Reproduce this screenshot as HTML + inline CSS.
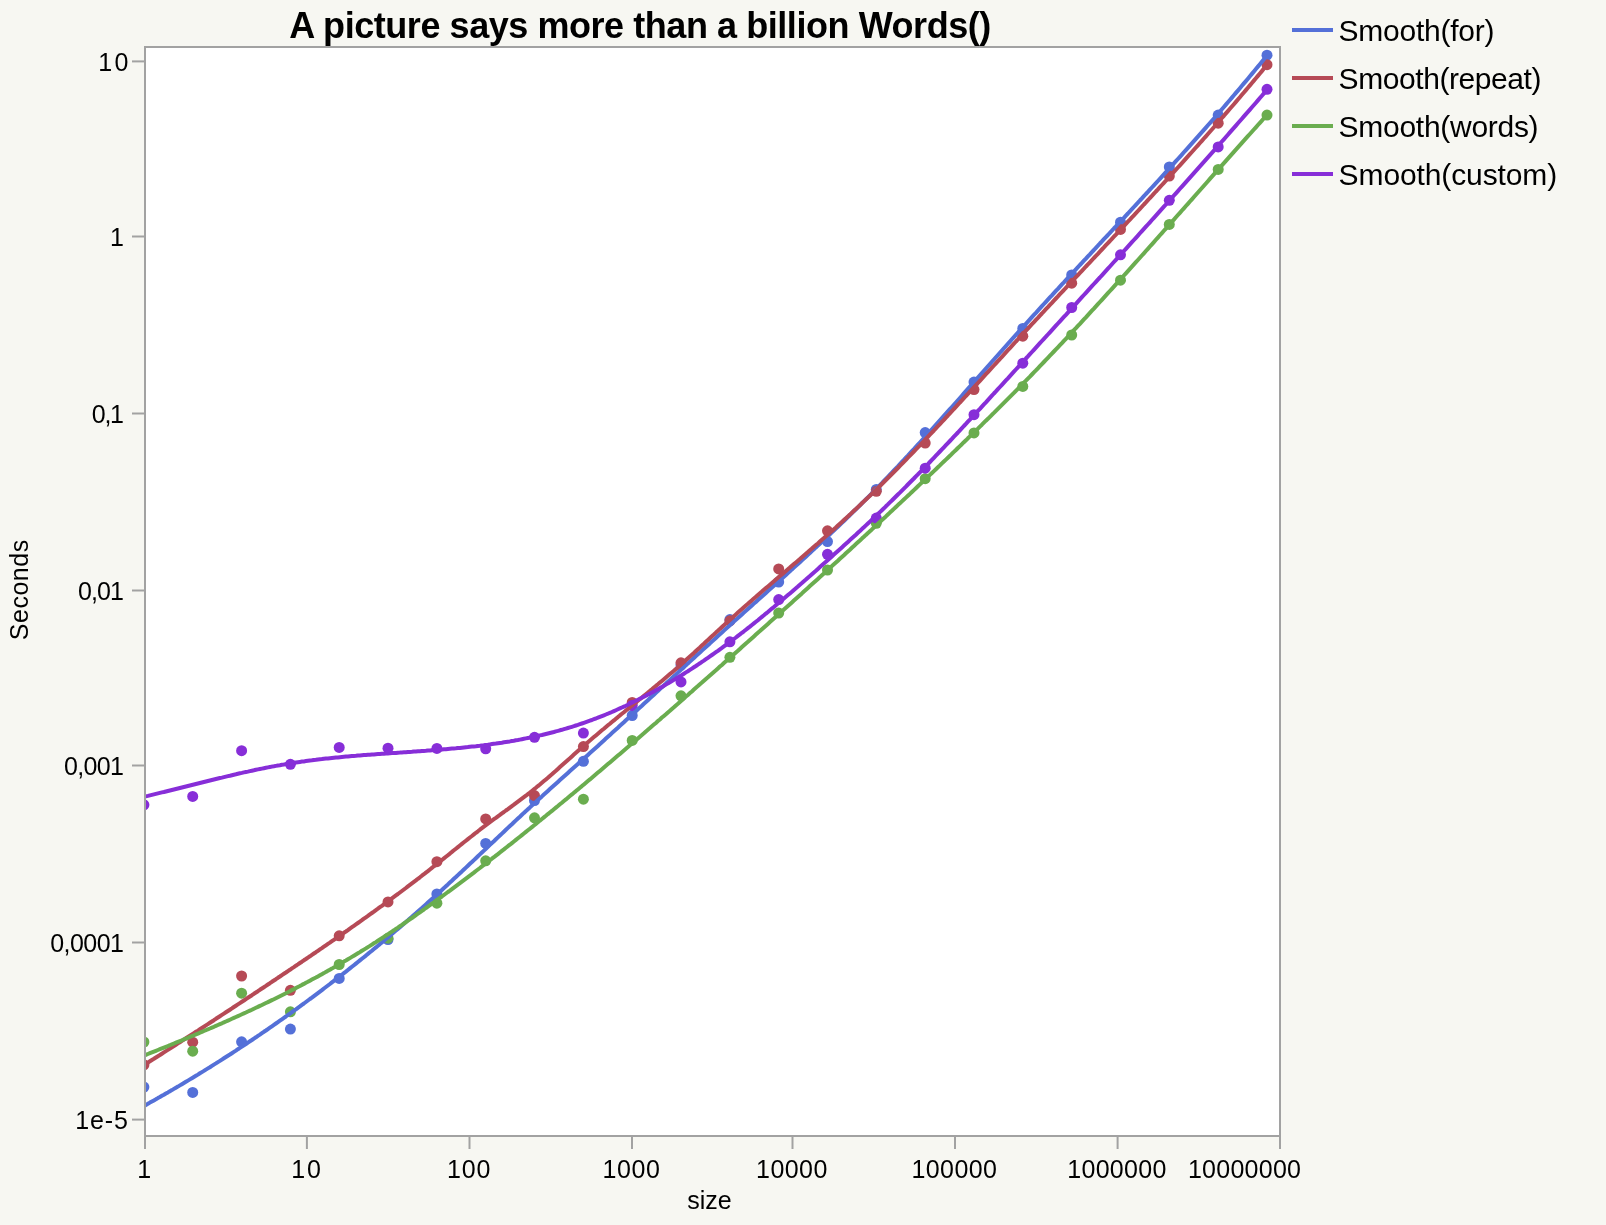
<!DOCTYPE html>
<html><head><meta charset="utf-8"><title>A picture says more than a billion Words()</title>
<style>
html,body{margin:0;padding:0;background:#f7f7f2;}
body{width:1606px;height:1225px;position:relative;overflow:hidden;font-family:"Liberation Sans",sans-serif;}
.t{font-family:"Liberation Sans",sans-serif;font-size:25px;fill:#000;}
.lg{font-family:"Liberation Sans",sans-serif;font-size:30px;fill:#000;}
.title{font-family:"Liberation Sans",sans-serif;font-size:36px;font-weight:bold;fill:#000;}
</style></head><body>
<svg width="1606" height="1225" viewBox="0 0 1606 1225" style="position:absolute;left:0;top:0;will-change:transform">
<defs><clipPath id="pc"><rect x="146" y="48" width="1133" height="1087"/></clipPath></defs>
<rect x="145" y="47" width="1135" height="1089" fill="#fff"/>
<g clip-path="url(#pc)">
<circle cx="143.9" cy="1087.1" r="5.5" fill="#5470d8"/>
<circle cx="192.7" cy="1092.4" r="5.5" fill="#5470d8"/>
<circle cx="241.6" cy="1041.8" r="5.5" fill="#5470d8"/>
<circle cx="290.4" cy="1029.1" r="5.5" fill="#5470d8"/>
<circle cx="339.2" cy="978.4" r="5.5" fill="#5470d8"/>
<circle cx="388.0" cy="939.6" r="5.5" fill="#5470d8"/>
<circle cx="436.9" cy="893.9" r="5.5" fill="#5470d8"/>
<circle cx="485.7" cy="843.4" r="5.5" fill="#5470d8"/>
<circle cx="534.5" cy="800.5" r="5.5" fill="#5470d8"/>
<circle cx="583.4" cy="761.3" r="5.5" fill="#5470d8"/>
<circle cx="632.2" cy="715.5" r="5.5" fill="#5470d8"/>
<circle cx="681.0" cy="665.0" r="5.5" fill="#5470d8"/>
<circle cx="729.9" cy="619.6" r="5.5" fill="#5470d8"/>
<circle cx="778.7" cy="582.0" r="5.5" fill="#5470d8"/>
<circle cx="827.5" cy="541.6" r="5.5" fill="#5470d8"/>
<circle cx="876.3" cy="489.5" r="5.5" fill="#5470d8"/>
<circle cx="925.2" cy="432.6" r="5.5" fill="#5470d8"/>
<circle cx="974.0" cy="382.1" r="5.5" fill="#5470d8"/>
<circle cx="1022.8" cy="328.4" r="5.5" fill="#5470d8"/>
<circle cx="1071.7" cy="274.9" r="5.5" fill="#5470d8"/>
<circle cx="1120.5" cy="222.2" r="5.5" fill="#5470d8"/>
<circle cx="1169.3" cy="167.0" r="5.5" fill="#5470d8"/>
<circle cx="1218.2" cy="115.1" r="5.5" fill="#5470d8"/>
<circle cx="1267.0" cy="55.2" r="5.5" fill="#5470d8"/>
<circle cx="143.9" cy="1064.8" r="5.5" fill="#b64a56"/>
<circle cx="192.7" cy="1042.2" r="5.5" fill="#b64a56"/>
<circle cx="241.6" cy="976.0" r="5.5" fill="#b64a56"/>
<circle cx="290.4" cy="990.3" r="5.5" fill="#b64a56"/>
<circle cx="339.2" cy="935.8" r="5.5" fill="#b64a56"/>
<circle cx="388.0" cy="901.9" r="5.5" fill="#b64a56"/>
<circle cx="436.9" cy="861.7" r="5.5" fill="#b64a56"/>
<circle cx="485.7" cy="818.9" r="5.5" fill="#b64a56"/>
<circle cx="534.5" cy="795.6" r="5.5" fill="#b64a56"/>
<circle cx="583.4" cy="746.6" r="5.5" fill="#b64a56"/>
<circle cx="632.2" cy="702.5" r="5.5" fill="#b64a56"/>
<circle cx="681.0" cy="662.8" r="5.5" fill="#b64a56"/>
<circle cx="729.9" cy="620.8" r="5.5" fill="#b64a56"/>
<circle cx="778.7" cy="568.9" r="5.5" fill="#b64a56"/>
<circle cx="827.5" cy="530.8" r="5.5" fill="#b64a56"/>
<circle cx="876.3" cy="491.3" r="5.5" fill="#b64a56"/>
<circle cx="925.2" cy="443.1" r="5.5" fill="#b64a56"/>
<circle cx="974.0" cy="389.6" r="5.5" fill="#b64a56"/>
<circle cx="1022.8" cy="336.2" r="5.5" fill="#b64a56"/>
<circle cx="1071.7" cy="283.2" r="5.5" fill="#b64a56"/>
<circle cx="1120.5" cy="229.4" r="5.5" fill="#b64a56"/>
<circle cx="1169.3" cy="176.0" r="5.5" fill="#b64a56"/>
<circle cx="1218.2" cy="123.2" r="5.5" fill="#b64a56"/>
<circle cx="1267.0" cy="64.7" r="5.5" fill="#b64a56"/>
<circle cx="143.9" cy="1042.0" r="5.5" fill="#6aad4f"/>
<circle cx="192.7" cy="1051.2" r="5.5" fill="#6aad4f"/>
<circle cx="241.6" cy="993.2" r="5.5" fill="#6aad4f"/>
<circle cx="290.4" cy="1011.8" r="5.5" fill="#6aad4f"/>
<circle cx="339.2" cy="964.5" r="5.5" fill="#6aad4f"/>
<circle cx="388.0" cy="938.2" r="5.5" fill="#6aad4f"/>
<circle cx="436.9" cy="903.2" r="5.5" fill="#6aad4f"/>
<circle cx="485.7" cy="860.8" r="5.5" fill="#6aad4f"/>
<circle cx="534.5" cy="817.8" r="5.5" fill="#6aad4f"/>
<circle cx="583.4" cy="799.2" r="5.5" fill="#6aad4f"/>
<circle cx="632.2" cy="740.4" r="5.5" fill="#6aad4f"/>
<circle cx="681.0" cy="695.8" r="5.5" fill="#6aad4f"/>
<circle cx="729.9" cy="657.3" r="5.5" fill="#6aad4f"/>
<circle cx="778.7" cy="613.0" r="5.5" fill="#6aad4f"/>
<circle cx="827.5" cy="570.1" r="5.5" fill="#6aad4f"/>
<circle cx="876.3" cy="523.3" r="5.5" fill="#6aad4f"/>
<circle cx="925.2" cy="478.7" r="5.5" fill="#6aad4f"/>
<circle cx="974.0" cy="432.9" r="5.5" fill="#6aad4f"/>
<circle cx="1022.8" cy="386.4" r="5.5" fill="#6aad4f"/>
<circle cx="1071.7" cy="335.0" r="5.5" fill="#6aad4f"/>
<circle cx="1120.5" cy="280.2" r="5.5" fill="#6aad4f"/>
<circle cx="1169.3" cy="224.4" r="5.5" fill="#6aad4f"/>
<circle cx="1218.2" cy="169.4" r="5.5" fill="#6aad4f"/>
<circle cx="1267.0" cy="115.1" r="5.5" fill="#6aad4f"/>
<circle cx="143.9" cy="804.8" r="5.5" fill="#872ed8"/>
<circle cx="192.7" cy="796.4" r="5.5" fill="#872ed8"/>
<circle cx="241.6" cy="750.7" r="5.5" fill="#872ed8"/>
<circle cx="290.4" cy="764.3" r="5.5" fill="#872ed8"/>
<circle cx="339.2" cy="747.4" r="5.5" fill="#872ed8"/>
<circle cx="388.0" cy="748.2" r="5.5" fill="#872ed8"/>
<circle cx="436.9" cy="748.4" r="5.5" fill="#872ed8"/>
<circle cx="485.7" cy="748.8" r="5.5" fill="#872ed8"/>
<circle cx="534.5" cy="737.3" r="5.5" fill="#872ed8"/>
<circle cx="583.4" cy="733.1" r="5.5" fill="#872ed8"/>
<circle cx="632.2" cy="705.5" r="5.5" fill="#872ed8"/>
<circle cx="681.0" cy="681.9" r="5.5" fill="#872ed8"/>
<circle cx="729.9" cy="641.8" r="5.5" fill="#872ed8"/>
<circle cx="778.7" cy="599.6" r="5.5" fill="#872ed8"/>
<circle cx="827.5" cy="554.3" r="5.5" fill="#872ed8"/>
<circle cx="876.3" cy="518.1" r="5.5" fill="#872ed8"/>
<circle cx="925.2" cy="468.2" r="5.5" fill="#872ed8"/>
<circle cx="974.0" cy="414.7" r="5.5" fill="#872ed8"/>
<circle cx="1022.8" cy="363.2" r="5.5" fill="#872ed8"/>
<circle cx="1071.7" cy="307.5" r="5.5" fill="#872ed8"/>
<circle cx="1120.5" cy="254.8" r="5.5" fill="#872ed8"/>
<circle cx="1169.3" cy="200.3" r="5.5" fill="#872ed8"/>
<circle cx="1218.2" cy="146.9" r="5.5" fill="#872ed8"/>
<circle cx="1267.0" cy="89.3" r="5.5" fill="#872ed8"/>
<path d="M143.9,1106.0 L145.9,1104.9 L147.9,1103.8 L149.9,1102.6 L151.9,1101.5 L153.9,1100.4 L155.9,1099.3 L157.9,1098.1 L159.9,1097.0 L161.9,1095.8 L163.9,1094.7 L165.9,1093.5 L167.9,1092.4 L169.9,1091.2 L171.9,1090.1 L173.9,1088.9 L175.9,1087.7 L177.9,1086.6 L179.9,1085.4 L181.9,1084.2 L183.9,1083.0 L185.9,1081.8 L187.9,1080.6 L189.9,1079.4 L191.9,1078.2 L193.9,1077.0 L195.9,1075.8 L197.9,1074.6 L199.9,1073.3 L201.9,1072.1 L203.9,1070.9 L205.9,1069.6 L207.9,1068.4 L209.9,1067.2 L211.9,1065.9 L213.9,1064.6 L215.9,1063.4 L217.9,1062.1 L219.9,1060.9 L221.9,1059.6 L223.9,1058.3 L225.9,1057.0 L227.9,1055.7 L229.9,1054.5 L231.9,1053.2 L233.9,1051.9 L235.9,1050.6 L237.9,1049.2 L239.9,1047.9 L241.9,1046.6 L243.9,1045.3 L245.9,1044.0 L247.9,1042.6 L249.9,1041.3 L251.9,1040.0 L253.9,1038.6 L255.9,1037.3 L257.9,1035.9 L259.9,1034.6 L261.9,1033.2 L263.9,1031.8 L265.9,1030.5 L267.9,1029.1 L269.9,1027.7 L271.9,1026.3 L273.9,1024.9 L275.9,1023.5 L277.9,1022.1 L279.9,1020.7 L281.9,1019.3 L283.9,1017.9 L285.9,1016.5 L287.9,1015.0 L289.9,1013.6 L291.9,1012.2 L293.9,1010.7 L295.9,1009.3 L297.9,1007.8 L299.9,1006.4 L301.9,1004.9 L303.9,1003.5 L305.9,1002.0 L307.9,1000.5 L309.9,999.0 L311.9,997.6 L313.9,996.1 L315.9,994.6 L317.9,993.1 L319.9,991.6 L321.9,990.1 L323.9,988.5 L325.9,987.0 L327.9,985.5 L329.9,984.0 L331.9,982.4 L333.9,980.9 L335.9,979.4 L337.9,977.8 L339.9,976.2 L341.9,974.7 L343.9,973.1 L345.9,971.6 L347.9,970.0 L349.9,968.4 L351.9,966.8 L353.9,965.2 L355.9,963.6 L357.9,962.0 L359.9,960.4 L361.9,958.8 L363.9,957.2 L365.9,955.6 L367.9,953.9 L369.9,952.3 L371.9,950.7 L373.9,949.0 L375.9,947.4 L377.9,945.7 L379.9,944.1 L381.9,942.4 L383.9,940.7 L385.9,939.0 L387.9,937.4 L389.9,935.7 L391.9,934.0 L393.9,932.3 L395.9,930.6 L397.9,928.9 L399.9,927.2 L401.9,925.4 L403.9,923.7 L405.9,922.0 L407.9,920.3 L409.9,918.5 L411.9,916.8 L413.9,915.0 L415.9,913.3 L417.9,911.5 L419.9,909.7 L421.9,908.0 L423.9,906.2 L425.9,904.4 L427.9,902.6 L429.9,900.8 L431.9,899.0 L433.9,897.2 L435.9,895.4 L437.9,893.6 L439.9,891.7 L441.9,889.9 L443.9,888.1 L445.9,886.2 L447.9,884.4 L449.9,882.5 L451.9,880.7 L453.9,878.8 L455.9,877.0 L457.9,875.1 L459.9,873.2 L461.9,871.4 L463.9,869.5 L465.9,867.6 L467.9,865.7 L469.9,863.8 L471.9,862.0 L473.9,860.1 L475.9,858.2 L477.9,856.3 L479.9,854.4 L481.9,852.5 L483.9,850.6 L485.9,848.7 L487.9,846.8 L489.9,844.9 L491.9,843.0 L493.9,841.2 L495.9,839.3 L497.9,837.4 L499.9,835.5 L501.9,833.6 L503.9,831.7 L505.9,829.8 L507.9,827.9 L509.9,826.0 L511.9,824.2 L513.9,822.3 L515.9,820.4 L517.9,818.5 L519.9,816.7 L521.9,814.8 L523.9,812.9 L525.9,811.1 L527.9,809.2 L529.9,807.4 L531.9,805.5 L533.9,803.7 L535.9,801.9 L537.9,800.0 L539.9,798.2 L541.9,796.4 L543.9,794.5 L545.9,792.7 L547.9,790.9 L549.9,789.1 L551.9,787.3 L553.9,785.5 L555.9,783.7 L557.9,781.9 L559.9,780.1 L561.9,778.3 L563.9,776.5 L565.9,774.7 L567.9,772.9 L569.9,771.1 L571.9,769.3 L573.9,767.5 L575.9,765.7 L577.9,763.9 L579.9,762.1 L581.9,760.3 L583.9,758.5 L585.9,756.7 L587.9,754.9 L589.9,753.1 L591.9,751.3 L593.9,749.5 L595.9,747.7 L597.9,745.9 L599.9,744.1 L601.9,742.2 L603.9,740.4 L605.9,738.6 L607.9,736.8 L609.9,735.0 L611.9,733.1 L613.9,731.3 L615.9,729.5 L617.9,727.7 L619.9,725.8 L621.9,724.0 L623.9,722.2 L625.9,720.3 L627.9,718.5 L629.9,716.7 L631.9,714.9 L633.9,713.0 L635.9,711.2 L637.9,709.3 L639.9,707.5 L641.9,705.7 L643.9,703.8 L645.9,702.0 L647.9,700.2 L649.9,698.3 L651.9,696.5 L653.9,694.7 L655.9,692.8 L657.9,691.0 L659.9,689.1 L661.9,687.3 L663.9,685.5 L665.9,683.6 L667.9,681.8 L669.9,680.0 L671.9,678.1 L673.9,676.3 L675.9,674.5 L677.9,672.6 L679.9,670.8 L681.9,668.9 L683.9,667.1 L685.9,665.3 L687.9,663.4 L689.9,661.6 L691.9,659.8 L693.9,658.0 L695.9,656.1 L697.9,654.3 L699.9,652.5 L701.9,650.6 L703.9,648.8 L705.9,647.0 L707.9,645.2 L709.9,643.4 L711.9,641.5 L713.9,639.7 L715.9,637.9 L717.9,636.1 L719.9,634.3 L721.9,632.5 L723.9,630.6 L725.9,628.8 L727.9,627.0 L729.9,625.2 L731.9,623.4 L733.9,621.6 L735.9,619.8 L737.9,618.0 L739.9,616.2 L741.9,614.4 L743.9,612.6 L745.9,610.8 L747.9,609.0 L749.9,607.2 L751.9,605.4 L753.9,603.6 L755.9,601.9 L757.9,600.1 L759.9,598.3 L761.9,596.5 L763.9,594.7 L765.9,592.9 L767.9,591.1 L769.9,589.3 L771.9,587.5 L773.9,585.7 L775.9,583.9 L777.9,582.1 L779.9,580.3 L781.9,578.5 L783.9,576.7 L785.9,574.9 L787.9,573.1 L789.9,571.3 L791.9,569.4 L793.9,567.6 L795.9,565.8 L797.9,564.0 L799.9,562.2 L801.9,560.3 L803.9,558.5 L805.9,556.7 L807.9,554.8 L809.9,553.0 L811.9,551.1 L813.9,549.3 L815.9,547.4 L817.9,545.6 L819.9,543.7 L821.9,541.8 L823.9,540.0 L825.9,538.1 L827.9,536.2 L829.9,534.3 L831.9,532.4 L833.9,530.5 L835.9,528.6 L837.9,526.7 L839.9,524.8 L841.9,522.9 L843.9,521.0 L845.9,519.0 L847.9,517.1 L849.9,515.2 L851.9,513.2 L853.9,511.2 L855.9,509.3 L857.9,507.3 L859.9,505.3 L861.9,503.3 L863.9,501.4 L865.9,499.4 L867.9,497.3 L869.9,495.3 L871.9,493.3 L873.9,491.3 L875.9,489.2 L877.9,487.2 L879.9,485.1 L881.9,483.1 L883.9,481.0 L885.9,478.9 L887.9,476.8 L889.9,474.7 L891.9,472.6 L893.9,470.5 L895.9,468.4 L897.9,466.3 L899.9,464.1 L901.9,462.0 L903.9,459.9 L905.9,457.7 L907.9,455.6 L909.9,453.4 L911.9,451.2 L913.9,449.1 L915.9,446.9 L917.9,444.7 L919.9,442.5 L921.9,440.3 L923.9,438.1 L925.9,435.9 L927.9,433.7 L929.9,431.5 L931.9,429.3 L933.9,427.1 L935.9,424.8 L937.9,422.6 L939.9,420.4 L941.9,418.2 L943.9,415.9 L945.9,413.7 L947.9,411.4 L949.9,409.2 L951.9,407.0 L953.9,404.7 L955.9,402.5 L957.9,400.2 L959.9,398.0 L961.9,395.7 L963.9,393.4 L965.9,391.2 L967.9,388.9 L969.9,386.7 L971.9,384.4 L973.9,382.2 L975.9,379.9 L977.9,377.6 L979.9,375.4 L981.9,373.1 L983.9,370.9 L985.9,368.6 L987.9,366.3 L989.9,364.1 L991.9,361.8 L993.9,359.6 L995.9,357.3 L997.9,355.1 L999.9,352.8 L1001.9,350.6 L1003.9,348.3 L1005.9,346.1 L1007.9,343.8 L1009.9,341.6 L1011.9,339.3 L1013.9,337.1 L1015.9,334.9 L1017.9,332.7 L1019.9,330.4 L1021.9,328.2 L1023.9,326.0 L1025.9,323.8 L1027.9,321.6 L1029.9,319.4 L1031.9,317.1 L1033.9,314.9 L1035.9,312.8 L1037.9,310.6 L1039.9,308.4 L1041.9,306.2 L1043.9,304.0 L1045.9,301.8 L1047.9,299.6 L1049.9,297.4 L1051.9,295.3 L1053.9,293.1 L1055.9,290.9 L1057.9,288.8 L1059.9,286.6 L1061.9,284.4 L1063.9,282.3 L1065.9,280.1 L1067.9,277.9 L1069.9,275.8 L1071.9,273.6 L1073.9,271.5 L1075.9,269.3 L1077.9,267.2 L1079.9,265.0 L1081.9,262.9 L1083.9,260.7 L1085.9,258.6 L1087.9,256.4 L1089.9,254.3 L1091.9,252.1 L1093.9,250.0 L1095.9,247.8 L1097.9,245.7 L1099.9,243.5 L1101.9,241.4 L1103.9,239.2 L1105.9,237.1 L1107.9,235.0 L1109.9,232.8 L1111.9,230.7 L1113.9,228.5 L1115.9,226.4 L1117.9,224.2 L1119.9,222.1 L1121.9,219.9 L1123.9,217.8 L1125.9,215.6 L1127.9,213.5 L1129.9,211.3 L1131.9,209.2 L1133.9,207.0 L1135.9,204.8 L1137.9,202.7 L1139.9,200.5 L1141.9,198.4 L1143.9,196.2 L1145.9,194.0 L1147.9,191.9 L1149.9,189.7 L1151.9,187.5 L1153.9,185.3 L1155.9,183.2 L1157.9,181.0 L1159.9,178.8 L1161.9,176.6 L1163.9,174.4 L1165.9,172.2 L1167.9,170.0 L1169.9,167.8 L1171.9,165.6 L1173.9,163.4 L1175.9,161.2 L1177.9,159.0 L1179.9,156.8 L1181.9,154.6 L1183.9,152.3 L1185.9,150.1 L1187.9,147.9 L1189.9,145.6 L1191.9,143.4 L1193.9,141.2 L1195.9,138.9 L1197.9,136.7 L1199.9,134.4 L1201.9,132.2 L1203.9,129.9 L1205.9,127.6 L1207.9,125.3 L1209.9,123.1 L1211.9,120.8 L1213.9,118.5 L1215.9,116.2 L1217.9,113.9 L1219.9,111.6 L1221.9,109.3 L1223.9,107.0 L1225.9,104.6 L1227.9,102.3 L1229.9,100.0 L1231.9,97.6 L1233.9,95.3 L1235.9,92.9 L1237.9,90.6 L1239.9,88.2 L1241.9,85.8 L1243.9,83.4 L1245.9,81.1 L1247.9,78.7 L1249.9,76.3 L1251.9,73.9 L1253.9,71.4 L1255.9,69.0 L1257.9,66.6 L1259.9,64.2 L1261.9,61.7 L1263.9,59.3 L1265.9,56.8 L1267.0,55.5" fill="none" stroke="#5470d8" stroke-width="4" stroke-linejoin="round" stroke-linecap="butt"/>
<path d="M143.9,1065.1 L145.9,1063.8 L147.9,1062.6 L149.9,1061.3 L151.9,1060.0 L153.9,1058.8 L155.9,1057.5 L157.9,1056.2 L159.9,1055.0 L161.9,1053.7 L163.9,1052.4 L165.9,1051.1 L167.9,1049.9 L169.9,1048.6 L171.9,1047.3 L173.9,1046.0 L175.9,1044.7 L177.9,1043.4 L179.9,1042.2 L181.9,1040.9 L183.9,1039.6 L185.9,1038.3 L187.9,1037.0 L189.9,1035.7 L191.9,1034.4 L193.9,1033.1 L195.9,1031.8 L197.9,1030.6 L199.9,1029.3 L201.9,1028.0 L203.9,1026.7 L205.9,1025.4 L207.9,1024.1 L209.9,1022.8 L211.9,1021.5 L213.9,1020.2 L215.9,1018.8 L217.9,1017.5 L219.9,1016.2 L221.9,1014.9 L223.9,1013.6 L225.9,1012.3 L227.9,1011.0 L229.9,1009.7 L231.9,1008.4 L233.9,1007.0 L235.9,1005.7 L237.9,1004.4 L239.9,1003.1 L241.9,1001.8 L243.9,1000.5 L245.9,999.1 L247.9,997.8 L249.9,996.5 L251.9,995.2 L253.9,993.8 L255.9,992.5 L257.9,991.2 L259.9,989.8 L261.9,988.5 L263.9,987.2 L265.9,985.9 L267.9,984.5 L269.9,983.2 L271.9,981.8 L273.9,980.5 L275.9,979.2 L277.9,977.8 L279.9,976.5 L281.9,975.1 L283.9,973.8 L285.9,972.5 L287.9,971.1 L289.9,969.8 L291.9,968.4 L293.9,967.1 L295.9,965.7 L297.9,964.4 L299.9,963.0 L301.9,961.7 L303.9,960.3 L305.9,959.0 L307.9,957.6 L309.9,956.3 L311.9,954.9 L313.9,953.5 L315.9,952.2 L317.9,950.8 L319.9,949.4 L321.9,948.1 L323.9,946.7 L325.9,945.3 L327.9,943.9 L329.9,942.6 L331.9,941.2 L333.9,939.8 L335.9,938.4 L337.9,937.0 L339.9,935.6 L341.9,934.2 L343.9,932.8 L345.9,931.5 L347.9,930.1 L349.9,928.6 L351.9,927.2 L353.9,925.8 L355.9,924.4 L357.9,923.0 L359.9,921.6 L361.9,920.2 L363.9,918.7 L365.9,917.3 L367.9,915.9 L369.9,914.4 L371.9,913.0 L373.9,911.6 L375.9,910.1 L377.9,908.7 L379.9,907.2 L381.9,905.8 L383.9,904.3 L385.9,902.8 L387.9,901.4 L389.9,899.9 L391.9,898.4 L393.9,896.9 L395.9,895.4 L397.9,894.0 L399.9,892.5 L401.9,891.0 L403.9,889.5 L405.9,888.0 L407.9,886.4 L409.9,884.9 L411.9,883.4 L413.9,881.9 L415.9,880.4 L417.9,878.8 L419.9,877.3 L421.9,875.7 L423.9,874.2 L425.9,872.6 L427.9,871.1 L429.9,869.5 L431.9,867.9 L433.9,866.3 L435.9,864.8 L437.9,863.2 L439.9,861.6 L441.9,860.0 L443.9,858.4 L445.9,856.8 L447.9,855.2 L449.9,853.6 L451.9,851.9 L453.9,850.3 L455.9,848.7 L457.9,847.1 L459.9,845.5 L461.9,843.9 L463.9,842.3 L465.9,840.7 L467.9,839.1 L469.9,837.5 L471.9,836.0 L473.9,834.4 L475.9,832.8 L477.9,831.3 L479.9,829.7 L481.9,828.2 L483.9,826.7 L485.9,825.2 L487.9,823.7 L489.9,822.2 L491.9,820.7 L493.9,819.2 L495.9,817.8 L497.9,816.3 L499.9,814.9 L501.9,813.4 L503.9,812.0 L505.9,810.5 L507.9,809.1 L509.9,807.6 L511.9,806.1 L513.9,804.7 L515.9,803.2 L517.9,801.7 L519.9,800.2 L521.9,798.7 L523.9,797.2 L525.9,795.7 L527.9,794.1 L529.9,792.6 L531.9,791.0 L533.9,789.4 L535.9,787.8 L537.9,786.1 L539.9,784.5 L541.9,782.8 L543.9,781.1 L545.9,779.4 L547.9,777.7 L549.9,775.9 L551.9,774.2 L553.9,772.4 L555.9,770.7 L557.9,768.9 L559.9,767.1 L561.9,765.3 L563.9,763.5 L565.9,761.7 L567.9,759.9 L569.9,758.2 L571.9,756.4 L573.9,754.6 L575.9,752.8 L577.9,751.0 L579.9,749.2 L581.9,747.5 L583.9,745.7 L585.9,744.0 L587.9,742.2 L589.9,740.5 L591.9,738.8 L593.9,737.1 L595.9,735.4 L597.9,733.7 L599.9,732.0 L601.9,730.3 L603.9,728.7 L605.9,727.0 L607.9,725.3 L609.9,723.7 L611.9,722.0 L613.9,720.4 L615.9,718.7 L617.9,717.1 L619.9,715.4 L621.9,713.8 L623.9,712.2 L625.9,710.5 L627.9,708.9 L629.9,707.3 L631.9,705.7 L633.9,704.0 L635.9,702.4 L637.9,700.8 L639.9,699.1 L641.9,697.5 L643.9,695.8 L645.9,694.2 L647.9,692.6 L649.9,690.9 L651.9,689.3 L653.9,687.6 L655.9,685.9 L657.9,684.3 L659.9,682.6 L661.9,680.9 L663.9,679.2 L665.9,677.5 L667.9,675.8 L669.9,674.1 L671.9,672.4 L673.9,670.7 L675.9,668.9 L677.9,667.2 L679.9,665.4 L681.9,663.7 L683.9,661.9 L685.9,660.1 L687.9,658.3 L689.9,656.5 L691.9,654.7 L693.9,652.9 L695.9,651.0 L697.9,649.2 L699.9,647.4 L701.9,645.5 L703.9,643.7 L705.9,641.8 L707.9,640.0 L709.9,638.1 L711.9,636.3 L713.9,634.5 L715.9,632.6 L717.9,630.8 L719.9,628.9 L721.9,627.1 L723.9,625.3 L725.9,623.4 L727.9,621.6 L729.9,619.8 L731.9,618.0 L733.9,616.2 L735.9,614.4 L737.9,612.6 L739.9,610.8 L741.9,609.1 L743.9,607.3 L745.9,605.5 L747.9,603.8 L749.9,602.0 L751.9,600.3 L753.9,598.5 L755.9,596.8 L757.9,595.0 L759.9,593.3 L761.9,591.6 L763.9,589.8 L765.9,588.1 L767.9,586.4 L769.9,584.7 L771.9,583.0 L773.9,581.3 L775.9,579.5 L777.9,577.8 L779.9,576.1 L781.9,574.4 L783.9,572.7 L785.9,571.0 L787.9,569.3 L789.9,567.6 L791.9,565.8 L793.9,564.1 L795.9,562.4 L797.9,560.7 L799.9,559.0 L801.9,557.2 L803.9,555.5 L805.9,553.8 L807.9,552.1 L809.9,550.3 L811.9,548.6 L813.9,546.8 L815.9,545.1 L817.9,543.4 L819.9,541.6 L821.9,539.8 L823.9,538.1 L825.9,536.3 L827.9,534.5 L829.9,532.7 L831.9,531.0 L833.9,529.2 L835.9,527.4 L837.9,525.5 L839.9,523.7 L841.9,521.9 L843.9,520.1 L845.9,518.3 L847.9,516.4 L849.9,514.6 L851.9,512.7 L853.9,510.8 L855.9,509.0 L857.9,507.1 L859.9,505.2 L861.9,503.3 L863.9,501.4 L865.9,499.5 L867.9,497.6 L869.9,495.7 L871.9,493.8 L873.9,491.8 L875.9,489.9 L877.9,487.9 L879.9,486.0 L881.9,484.0 L883.9,482.0 L885.9,480.0 L887.9,478.0 L889.9,476.0 L891.9,474.0 L893.9,472.0 L895.9,470.0 L897.9,468.0 L899.9,465.9 L901.9,463.9 L903.9,461.8 L905.9,459.8 L907.9,457.7 L909.9,455.7 L911.9,453.6 L913.9,451.5 L915.9,449.4 L917.9,447.3 L919.9,445.3 L921.9,443.2 L923.9,441.1 L925.9,438.9 L927.9,436.8 L929.9,434.7 L931.9,432.6 L933.9,430.5 L935.9,428.3 L937.9,426.2 L939.9,424.1 L941.9,421.9 L943.9,419.8 L945.9,417.6 L947.9,415.5 L949.9,413.3 L951.9,411.2 L953.9,409.0 L955.9,406.9 L957.9,404.7 L959.9,402.5 L961.9,400.4 L963.9,398.2 L965.9,396.0 L967.9,393.9 L969.9,391.7 L971.9,389.5 L973.9,387.3 L975.9,385.2 L977.9,383.0 L979.9,380.8 L981.9,378.6 L983.9,376.4 L985.9,374.2 L987.9,372.1 L989.9,369.9 L991.9,367.7 L993.9,365.5 L995.9,363.3 L997.9,361.1 L999.9,359.0 L1001.9,356.8 L1003.9,354.6 L1005.9,352.4 L1007.9,350.2 L1009.9,348.1 L1011.9,345.9 L1013.9,343.7 L1015.9,341.5 L1017.9,339.4 L1019.9,337.2 L1021.9,335.0 L1023.9,332.9 L1025.9,330.7 L1027.9,328.6 L1029.9,326.4 L1031.9,324.2 L1033.9,322.1 L1035.9,319.9 L1037.9,317.8 L1039.9,315.6 L1041.9,313.5 L1043.9,311.3 L1045.9,309.2 L1047.9,307.1 L1049.9,304.9 L1051.9,302.8 L1053.9,300.6 L1055.9,298.5 L1057.9,296.4 L1059.9,294.2 L1061.9,292.1 L1063.9,290.0 L1065.9,287.8 L1067.9,285.7 L1069.9,283.6 L1071.9,281.4 L1073.9,279.3 L1075.9,277.2 L1077.9,275.1 L1079.9,272.9 L1081.9,270.8 L1083.9,268.7 L1085.9,266.5 L1087.9,264.4 L1089.9,262.3 L1091.9,260.2 L1093.9,258.0 L1095.9,255.9 L1097.9,253.8 L1099.9,251.6 L1101.9,249.5 L1103.9,247.4 L1105.9,245.2 L1107.9,243.1 L1109.9,241.0 L1111.9,238.8 L1113.9,236.7 L1115.9,234.6 L1117.9,232.4 L1119.9,230.3 L1121.9,228.2 L1123.9,226.0 L1125.9,223.9 L1127.9,221.7 L1129.9,219.6 L1131.9,217.4 L1133.9,215.3 L1135.9,213.2 L1137.9,211.0 L1139.9,208.8 L1141.9,206.7 L1143.9,204.5 L1145.9,202.4 L1147.9,200.2 L1149.9,198.0 L1151.9,195.9 L1153.9,193.7 L1155.9,191.5 L1157.9,189.4 L1159.9,187.2 L1161.9,185.0 L1163.9,182.8 L1165.9,180.7 L1167.9,178.5 L1169.9,176.3 L1171.9,174.1 L1173.9,171.9 L1175.9,169.7 L1177.9,167.5 L1179.9,165.3 L1181.9,163.1 L1183.9,160.9 L1185.9,158.6 L1187.9,156.4 L1189.9,154.2 L1191.9,152.0 L1193.9,149.7 L1195.9,147.5 L1197.9,145.3 L1199.9,143.0 L1201.9,140.8 L1203.9,138.5 L1205.9,136.3 L1207.9,134.0 L1209.9,131.7 L1211.9,129.5 L1213.9,127.2 L1215.9,124.9 L1217.9,122.6 L1219.9,120.3 L1221.9,118.0 L1223.9,115.8 L1225.9,113.4 L1227.9,111.1 L1229.9,108.8 L1231.9,106.5 L1233.9,104.2 L1235.9,101.9 L1237.9,99.5 L1239.9,97.2 L1241.9,94.8 L1243.9,92.5 L1245.9,90.1 L1247.9,87.8 L1249.9,85.4 L1251.9,83.0 L1253.9,80.6 L1255.9,78.3 L1257.9,75.9 L1259.9,73.5 L1261.9,71.1 L1263.9,68.6 L1265.9,66.2 L1267.0,64.9" fill="none" stroke="#b64a56" stroke-width="4" stroke-linejoin="round" stroke-linecap="butt"/>
<path d="M143.9,1055.5 L145.9,1054.8 L147.9,1054.0 L149.9,1053.2 L151.9,1052.4 L153.9,1051.6 L155.9,1050.8 L157.9,1050.0 L159.9,1049.2 L161.9,1048.4 L163.9,1047.6 L165.9,1046.8 L167.9,1046.0 L169.9,1045.2 L171.9,1044.3 L173.9,1043.5 L175.9,1042.7 L177.9,1041.9 L179.9,1041.1 L181.9,1040.3 L183.9,1039.4 L185.9,1038.6 L187.9,1037.8 L189.9,1036.9 L191.9,1036.1 L193.9,1035.3 L195.9,1034.4 L197.9,1033.6 L199.9,1032.7 L201.9,1031.9 L203.9,1031.0 L205.9,1030.2 L207.9,1029.3 L209.9,1028.5 L211.9,1027.6 L213.9,1026.8 L215.9,1025.9 L217.9,1025.0 L219.9,1024.1 L221.9,1023.3 L223.9,1022.4 L225.9,1021.5 L227.9,1020.6 L229.9,1019.7 L231.9,1018.8 L233.9,1017.9 L235.9,1017.0 L237.9,1016.1 L239.9,1015.2 L241.9,1014.3 L243.9,1013.4 L245.9,1012.5 L247.9,1011.5 L249.9,1010.6 L251.9,1009.7 L253.9,1008.7 L255.9,1007.8 L257.9,1006.9 L259.9,1005.9 L261.9,1005.0 L263.9,1004.0 L265.9,1003.0 L267.9,1002.1 L269.9,1001.1 L271.9,1000.1 L273.9,999.2 L275.9,998.2 L277.9,997.2 L279.9,996.2 L281.9,995.2 L283.9,994.2 L285.9,993.2 L287.9,992.2 L289.9,991.2 L291.9,990.1 L293.9,989.1 L295.9,988.1 L297.9,987.0 L299.9,986.0 L301.9,984.9 L303.9,983.9 L305.9,982.8 L307.9,981.8 L309.9,980.7 L311.9,979.6 L313.9,978.5 L315.9,977.5 L317.9,976.4 L319.9,975.3 L321.9,974.2 L323.9,973.1 L325.9,971.9 L327.9,970.8 L329.9,969.7 L331.9,968.6 L333.9,967.4 L335.9,966.3 L337.9,965.1 L339.9,964.0 L341.9,962.8 L343.9,961.6 L345.9,960.5 L347.9,959.3 L349.9,958.1 L351.9,956.9 L353.9,955.7 L355.9,954.5 L357.9,953.3 L359.9,952.1 L361.9,950.8 L363.9,949.6 L365.9,948.4 L367.9,947.1 L369.9,945.9 L371.9,944.6 L373.9,943.3 L375.9,942.1 L377.9,940.8 L379.9,939.5 L381.9,938.2 L383.9,936.9 L385.9,935.6 L387.9,934.3 L389.9,932.9 L391.9,931.6 L393.9,930.3 L395.9,928.9 L397.9,927.6 L399.9,926.2 L401.9,924.9 L403.9,923.5 L405.9,922.1 L407.9,920.7 L409.9,919.3 L411.9,918.0 L413.9,916.6 L415.9,915.1 L417.9,913.7 L419.9,912.3 L421.9,910.9 L423.9,909.5 L425.9,908.0 L427.9,906.6 L429.9,905.2 L431.9,903.7 L433.9,902.3 L435.9,900.8 L437.9,899.4 L439.9,897.9 L441.9,896.5 L443.9,895.0 L445.9,893.5 L447.9,892.0 L449.9,890.6 L451.9,889.1 L453.9,887.6 L455.9,886.1 L457.9,884.6 L459.9,883.1 L461.9,881.6 L463.9,880.1 L465.9,878.6 L467.9,877.1 L469.9,875.6 L471.9,874.1 L473.9,872.6 L475.9,871.0 L477.9,869.5 L479.9,868.0 L481.9,866.4 L483.9,864.9 L485.9,863.4 L487.9,861.8 L489.9,860.3 L491.9,858.7 L493.9,857.2 L495.9,855.6 L497.9,854.1 L499.9,852.5 L501.9,850.9 L503.9,849.4 L505.9,847.8 L507.9,846.2 L509.9,844.7 L511.9,843.1 L513.9,841.5 L515.9,839.9 L517.9,838.3 L519.9,836.7 L521.9,835.1 L523.9,833.5 L525.9,831.9 L527.9,830.3 L529.9,828.7 L531.9,827.1 L533.9,825.5 L535.9,823.9 L537.9,822.3 L539.9,820.6 L541.9,819.0 L543.9,817.4 L545.9,815.8 L547.9,814.1 L549.9,812.5 L551.9,810.9 L553.9,809.2 L555.9,807.6 L557.9,806.0 L559.9,804.3 L561.9,802.7 L563.9,801.0 L565.9,799.4 L567.9,797.7 L569.9,796.0 L571.9,794.4 L573.9,792.7 L575.9,791.1 L577.9,789.4 L579.9,787.7 L581.9,786.1 L583.9,784.4 L585.9,782.7 L587.9,781.0 L589.9,779.4 L591.9,777.7 L593.9,776.0 L595.9,774.3 L597.9,772.6 L599.9,770.9 L601.9,769.2 L603.9,767.5 L605.9,765.8 L607.9,764.1 L609.9,762.4 L611.9,760.7 L613.9,759.0 L615.9,757.3 L617.9,755.6 L619.9,753.9 L621.9,752.2 L623.9,750.5 L625.9,748.8 L627.9,747.1 L629.9,745.3 L631.9,743.6 L633.9,741.9 L635.9,740.2 L637.9,738.5 L639.9,736.7 L641.9,735.0 L643.9,733.3 L645.9,731.5 L647.9,729.8 L649.9,728.1 L651.9,726.3 L653.9,724.6 L655.9,722.9 L657.9,721.1 L659.9,719.4 L661.9,717.6 L663.9,715.9 L665.9,714.2 L667.9,712.4 L669.9,710.7 L671.9,708.9 L673.9,707.2 L675.9,705.4 L677.9,703.7 L679.9,701.9 L681.9,700.2 L683.9,698.4 L685.9,696.6 L687.9,694.9 L689.9,693.1 L691.9,691.4 L693.9,689.6 L695.9,687.8 L697.9,686.1 L699.9,684.3 L701.9,682.6 L703.9,680.8 L705.9,679.0 L707.9,677.3 L709.9,675.5 L711.9,673.7 L713.9,671.9 L715.9,670.2 L717.9,668.4 L719.9,666.6 L721.9,664.9 L723.9,663.1 L725.9,661.3 L727.9,659.5 L729.9,657.8 L731.9,656.0 L733.9,654.2 L735.9,652.4 L737.9,650.7 L739.9,648.9 L741.9,647.1 L743.9,645.3 L745.9,643.5 L747.9,641.8 L749.9,640.0 L751.9,638.2 L753.9,636.4 L755.9,634.6 L757.9,632.8 L759.9,631.1 L761.9,629.3 L763.9,627.5 L765.9,625.7 L767.9,623.9 L769.9,622.1 L771.9,620.3 L773.9,618.5 L775.9,616.7 L777.9,615.0 L779.9,613.2 L781.9,611.4 L783.9,609.6 L785.9,607.8 L787.9,606.0 L789.9,604.2 L791.9,602.4 L793.9,600.6 L795.9,598.8 L797.9,597.0 L799.9,595.2 L801.9,593.4 L803.9,591.5 L805.9,589.7 L807.9,587.9 L809.9,586.1 L811.9,584.3 L813.9,582.5 L815.9,580.7 L817.9,578.9 L819.9,577.1 L821.9,575.2 L823.9,573.4 L825.9,571.6 L827.9,569.8 L829.9,568.0 L831.9,566.1 L833.9,564.3 L835.9,562.5 L837.9,560.7 L839.9,558.8 L841.9,557.0 L843.9,555.2 L845.9,553.3 L847.9,551.5 L849.9,549.7 L851.9,547.8 L853.9,546.0 L855.9,544.1 L857.9,542.3 L859.9,540.5 L861.9,538.6 L863.9,536.8 L865.9,534.9 L867.9,533.1 L869.9,531.2 L871.9,529.4 L873.9,527.5 L875.9,525.7 L877.9,523.8 L879.9,521.9 L881.9,520.1 L883.9,518.2 L885.9,516.4 L887.9,514.5 L889.9,512.6 L891.9,510.8 L893.9,508.9 L895.9,507.0 L897.9,505.1 L899.9,503.3 L901.9,501.4 L903.9,499.5 L905.9,497.6 L907.9,495.7 L909.9,493.9 L911.9,492.0 L913.9,490.1 L915.9,488.2 L917.9,486.3 L919.9,484.4 L921.9,482.5 L923.9,480.6 L925.9,478.7 L927.9,476.8 L929.9,474.9 L931.9,473.0 L933.9,471.1 L935.9,469.2 L937.9,467.3 L939.9,465.4 L941.9,463.4 L943.9,461.5 L945.9,459.6 L947.9,457.7 L949.9,455.8 L951.9,453.8 L953.9,451.9 L955.9,450.0 L957.9,448.0 L959.9,446.1 L961.9,444.2 L963.9,442.2 L965.9,440.3 L967.9,438.3 L969.9,436.4 L971.9,434.5 L973.9,432.5 L975.9,430.5 L977.9,428.6 L979.9,426.6 L981.9,424.7 L983.9,422.7 L985.9,420.7 L987.9,418.8 L989.9,416.8 L991.9,414.8 L993.9,412.9 L995.9,410.9 L997.9,408.9 L999.9,406.9 L1001.9,404.9 L1003.9,402.9 L1005.9,400.9 L1007.9,398.9 L1009.9,396.9 L1011.9,394.9 L1013.9,392.9 L1015.9,390.8 L1017.9,388.8 L1019.9,386.8 L1021.9,384.7 L1023.9,382.7 L1025.9,380.7 L1027.9,378.6 L1029.9,376.6 L1031.9,374.5 L1033.9,372.4 L1035.9,370.4 L1037.9,368.3 L1039.9,366.2 L1041.9,364.1 L1043.9,362.0 L1045.9,359.9 L1047.9,357.8 L1049.9,355.7 L1051.9,353.6 L1053.9,351.5 L1055.9,349.4 L1057.9,347.3 L1059.9,345.2 L1061.9,343.1 L1063.9,340.9 L1065.9,338.8 L1067.9,336.7 L1069.9,334.5 L1071.9,332.4 L1073.9,330.2 L1075.9,328.1 L1077.9,325.9 L1079.9,323.8 L1081.9,321.6 L1083.9,319.4 L1085.9,317.3 L1087.9,315.1 L1089.9,312.9 L1091.9,310.7 L1093.9,308.6 L1095.9,306.4 L1097.9,304.2 L1099.9,302.0 L1101.9,299.8 L1103.9,297.6 L1105.9,295.4 L1107.9,293.2 L1109.9,291.0 L1111.9,288.8 L1113.9,286.6 L1115.9,284.4 L1117.9,282.2 L1119.9,280.0 L1121.9,277.8 L1123.9,275.5 L1125.9,273.3 L1127.9,271.1 L1129.9,268.9 L1131.9,266.7 L1133.9,264.4 L1135.9,262.2 L1137.9,260.0 L1139.9,257.7 L1141.9,255.5 L1143.9,253.3 L1145.9,251.0 L1147.9,248.8 L1149.9,246.5 L1151.9,244.3 L1153.9,242.1 L1155.9,239.8 L1157.9,237.6 L1159.9,235.3 L1161.9,233.1 L1163.9,230.8 L1165.9,228.6 L1167.9,226.3 L1169.9,224.1 L1171.9,221.8 L1173.9,219.6 L1175.9,217.3 L1177.9,215.0 L1179.9,212.8 L1181.9,210.5 L1183.9,208.3 L1185.9,206.0 L1187.9,203.8 L1189.9,201.5 L1191.9,199.3 L1193.9,197.0 L1195.9,194.7 L1197.9,192.5 L1199.9,190.2 L1201.9,188.0 L1203.9,185.7 L1205.9,183.5 L1207.9,181.2 L1209.9,178.9 L1211.9,176.7 L1213.9,174.4 L1215.9,172.2 L1217.9,169.9 L1219.9,167.7 L1221.9,165.4 L1223.9,163.2 L1225.9,160.9 L1227.9,158.7 L1229.9,156.4 L1231.9,154.2 L1233.9,151.9 L1235.9,149.7 L1237.9,147.4 L1239.9,145.2 L1241.9,142.9 L1243.9,140.7 L1245.9,138.4 L1247.9,136.2 L1249.9,134.0 L1251.9,131.7 L1253.9,129.5 L1255.9,127.3 L1257.9,125.0 L1259.9,122.8 L1261.9,120.6 L1263.9,118.3 L1265.9,116.1 L1267.0,114.9" fill="none" stroke="#6aad4f" stroke-width="4" stroke-linejoin="round" stroke-linecap="butt"/>
<path d="M143.9,796.8 L145.9,796.3 L147.9,795.9 L149.9,795.4 L151.9,794.9 L153.9,794.4 L155.9,793.9 L157.9,793.4 L159.9,792.9 L161.9,792.4 L163.9,792.0 L165.9,791.5 L167.9,791.0 L169.9,790.5 L171.9,790.0 L173.9,789.5 L175.9,789.0 L177.9,788.5 L179.9,788.0 L181.9,787.5 L183.9,787.0 L185.9,786.5 L187.9,786.0 L189.9,785.5 L191.9,785.0 L193.9,784.5 L195.9,784.0 L197.9,783.5 L199.9,783.0 L201.9,782.5 L203.9,782.0 L205.9,781.5 L207.9,781.0 L209.9,780.5 L211.9,780.0 L213.9,779.5 L215.9,779.0 L217.9,778.5 L219.9,778.0 L221.9,777.6 L223.9,777.1 L225.9,776.6 L227.9,776.1 L229.9,775.7 L231.9,775.2 L233.9,774.7 L235.9,774.3 L237.9,773.8 L239.9,773.3 L241.9,772.9 L243.9,772.4 L245.9,772.0 L247.9,771.6 L249.9,771.1 L251.9,770.7 L253.9,770.3 L255.9,769.8 L257.9,769.4 L259.9,769.0 L261.9,768.6 L263.9,768.2 L265.9,767.8 L267.9,767.4 L269.9,767.0 L271.9,766.6 L273.9,766.3 L275.9,765.9 L277.9,765.5 L279.9,765.2 L281.9,764.8 L283.9,764.5 L285.9,764.1 L287.9,763.8 L289.9,763.5 L291.9,763.1 L293.9,762.8 L295.9,762.5 L297.9,762.2 L299.9,761.9 L301.9,761.6 L303.9,761.4 L305.9,761.1 L307.9,760.8 L309.9,760.5 L311.9,760.3 L313.9,760.0 L315.9,759.8 L317.9,759.5 L319.9,759.3 L321.9,759.1 L323.9,758.8 L325.9,758.6 L327.9,758.4 L329.9,758.2 L331.9,758.0 L333.9,757.8 L335.9,757.6 L337.9,757.4 L339.9,757.2 L341.9,757.0 L343.9,756.8 L345.9,756.6 L347.9,756.5 L349.9,756.3 L351.9,756.1 L353.9,755.9 L355.9,755.8 L357.9,755.6 L359.9,755.5 L361.9,755.3 L363.9,755.1 L365.9,755.0 L367.9,754.8 L369.9,754.7 L371.9,754.5 L373.9,754.4 L375.9,754.2 L377.9,754.1 L379.9,754.0 L381.9,753.8 L383.9,753.7 L385.9,753.5 L387.9,753.4 L389.9,753.3 L391.9,753.1 L393.9,753.0 L395.9,752.9 L397.9,752.7 L399.9,752.6 L401.9,752.4 L403.9,752.3 L405.9,752.2 L407.9,752.0 L409.9,751.9 L411.9,751.8 L413.9,751.6 L415.9,751.5 L417.9,751.3 L419.9,751.2 L421.9,751.0 L423.9,750.9 L425.9,750.8 L427.9,750.6 L429.9,750.5 L431.9,750.3 L433.9,750.1 L435.9,750.0 L437.9,749.8 L439.9,749.7 L441.9,749.5 L443.9,749.3 L445.9,749.2 L447.9,749.0 L449.9,748.8 L451.9,748.6 L453.9,748.4 L455.9,748.3 L457.9,748.1 L459.9,747.9 L461.9,747.7 L463.9,747.5 L465.9,747.3 L467.9,747.1 L469.9,746.8 L471.9,746.6 L473.9,746.4 L475.9,746.2 L477.9,745.9 L479.9,745.7 L481.9,745.4 L483.9,745.2 L485.9,744.9 L487.9,744.7 L489.9,744.4 L491.9,744.1 L493.9,743.8 L495.9,743.6 L497.9,743.3 L499.9,743.0 L501.9,742.7 L503.9,742.3 L505.9,742.0 L507.9,741.7 L509.9,741.4 L511.9,741.0 L513.9,740.7 L515.9,740.3 L517.9,740.0 L519.9,739.6 L521.9,739.2 L523.9,738.8 L525.9,738.4 L527.9,738.0 L529.9,737.6 L531.9,737.2 L533.9,736.8 L535.9,736.3 L537.9,735.9 L539.9,735.4 L541.9,735.0 L543.9,734.5 L545.9,734.0 L547.9,733.5 L549.9,733.0 L551.9,732.5 L553.9,732.0 L555.9,731.4 L557.9,730.9 L559.9,730.3 L561.9,729.8 L563.9,729.2 L565.9,728.6 L567.9,728.0 L569.9,727.4 L571.9,726.8 L573.9,726.2 L575.9,725.5 L577.9,724.9 L579.9,724.2 L581.9,723.5 L583.9,722.8 L585.9,722.1 L587.9,721.4 L589.9,720.7 L591.9,720.0 L593.9,719.2 L595.9,718.5 L597.9,717.7 L599.9,716.9 L601.9,716.1 L603.9,715.3 L605.9,714.5 L607.9,713.7 L609.9,712.8 L611.9,712.0 L613.9,711.1 L615.9,710.2 L617.9,709.3 L619.9,708.4 L621.9,707.5 L623.9,706.6 L625.9,705.7 L627.9,704.7 L629.9,703.8 L631.9,702.8 L633.9,701.8 L635.9,700.8 L637.9,699.8 L639.9,698.8 L641.9,697.8 L643.9,696.7 L645.9,695.7 L647.9,694.6 L649.9,693.6 L651.9,692.5 L653.9,691.4 L655.9,690.3 L657.9,689.2 L659.9,688.0 L661.9,686.9 L663.9,685.8 L665.9,684.6 L667.9,683.4 L669.9,682.3 L671.9,681.1 L673.9,679.9 L675.9,678.7 L677.9,677.4 L679.9,676.2 L681.9,675.0 L683.9,673.7 L685.9,672.4 L687.9,671.2 L689.9,669.9 L691.9,668.6 L693.9,667.3 L695.9,666.0 L697.9,664.6 L699.9,663.3 L701.9,661.9 L703.9,660.6 L705.9,659.2 L707.9,657.8 L709.9,656.4 L711.9,655.0 L713.9,653.6 L715.9,652.2 L717.9,650.8 L719.9,649.3 L721.9,647.9 L723.9,646.4 L725.9,645.0 L727.9,643.5 L729.9,642.0 L731.9,640.5 L733.9,639.0 L735.9,637.5 L737.9,635.9 L739.9,634.4 L741.9,632.8 L743.9,631.3 L745.9,629.7 L747.9,628.1 L749.9,626.6 L751.9,625.0 L753.9,623.4 L755.9,621.8 L757.9,620.2 L759.9,618.5 L761.9,616.9 L763.9,615.3 L765.9,613.6 L767.9,612.0 L769.9,610.3 L771.9,608.6 L773.9,607.0 L775.9,605.3 L777.9,603.6 L779.9,601.9 L781.9,600.2 L783.9,598.5 L785.9,596.8 L787.9,595.1 L789.9,593.4 L791.9,591.7 L793.9,589.9 L795.9,588.2 L797.9,586.5 L799.9,584.7 L801.9,583.0 L803.9,581.2 L805.9,579.5 L807.9,577.7 L809.9,576.0 L811.9,574.2 L813.9,572.4 L815.9,570.7 L817.9,568.9 L819.9,567.1 L821.9,565.3 L823.9,563.5 L825.9,561.8 L827.9,560.0 L829.9,558.2 L831.9,556.4 L833.9,554.6 L835.9,552.8 L837.9,551.0 L839.9,549.2 L841.9,547.4 L843.9,545.6 L845.9,543.8 L847.9,542.0 L849.9,540.1 L851.9,538.3 L853.9,536.5 L855.9,534.7 L857.9,532.8 L859.9,531.0 L861.9,529.1 L863.9,527.3 L865.9,525.4 L867.9,523.5 L869.9,521.6 L871.9,519.7 L873.9,517.9 L875.9,516.0 L877.9,514.0 L879.9,512.1 L881.9,510.2 L883.9,508.3 L885.9,506.3 L887.9,504.4 L889.9,502.4 L891.9,500.5 L893.9,498.5 L895.9,496.5 L897.9,494.5 L899.9,492.6 L901.9,490.6 L903.9,488.6 L905.9,486.6 L907.9,484.5 L909.9,482.5 L911.9,480.5 L913.9,478.5 L915.9,476.4 L917.9,474.4 L919.9,472.3 L921.9,470.3 L923.9,468.2 L925.9,466.1 L927.9,464.1 L929.9,462.0 L931.9,459.9 L933.9,457.8 L935.9,455.7 L937.9,453.6 L939.9,451.5 L941.9,449.4 L943.9,447.3 L945.9,445.2 L947.9,443.1 L949.9,441.0 L951.9,438.9 L953.9,436.7 L955.9,434.6 L957.9,432.5 L959.9,430.3 L961.9,428.2 L963.9,426.0 L965.9,423.9 L967.9,421.7 L969.9,419.6 L971.9,417.4 L973.9,415.3 L975.9,413.1 L977.9,410.9 L979.9,408.8 L981.9,406.6 L983.9,404.4 L985.9,402.3 L987.9,400.1 L989.9,397.9 L991.9,395.7 L993.9,393.5 L995.9,391.4 L997.9,389.2 L999.9,387.0 L1001.9,384.8 L1003.9,382.6 L1005.9,380.4 L1007.9,378.3 L1009.9,376.1 L1011.9,373.9 L1013.9,371.7 L1015.9,369.5 L1017.9,367.3 L1019.9,365.1 L1021.9,362.9 L1023.9,360.7 L1025.9,358.5 L1027.9,356.4 L1029.9,354.2 L1031.9,352.0 L1033.9,349.8 L1035.9,347.6 L1037.9,345.4 L1039.9,343.2 L1041.9,341.0 L1043.9,338.8 L1045.9,336.7 L1047.9,334.5 L1049.9,332.3 L1051.9,330.1 L1053.9,327.9 L1055.9,325.7 L1057.9,323.5 L1059.9,321.3 L1061.9,319.1 L1063.9,316.9 L1065.9,314.8 L1067.9,312.6 L1069.9,310.4 L1071.9,308.2 L1073.9,306.0 L1075.9,303.8 L1077.9,301.6 L1079.9,299.4 L1081.9,297.2 L1083.9,295.0 L1085.9,292.8 L1087.9,290.6 L1089.9,288.4 L1091.9,286.2 L1093.9,284.0 L1095.9,281.8 L1097.9,279.6 L1099.9,277.5 L1101.9,275.3 L1103.9,273.1 L1105.9,270.9 L1107.9,268.7 L1109.9,266.5 L1111.9,264.2 L1113.9,262.0 L1115.9,259.8 L1117.9,257.6 L1119.9,255.4 L1121.9,253.2 L1123.9,251.0 L1125.9,248.8 L1127.9,246.6 L1129.9,244.4 L1131.9,242.2 L1133.9,240.0 L1135.9,237.8 L1137.9,235.6 L1139.9,233.3 L1141.9,231.1 L1143.9,228.9 L1145.9,226.7 L1147.9,224.5 L1149.9,222.3 L1151.9,220.0 L1153.9,217.8 L1155.9,215.6 L1157.9,213.4 L1159.9,211.1 L1161.9,208.9 L1163.9,206.7 L1165.9,204.5 L1167.9,202.2 L1169.9,200.0 L1171.9,197.8 L1173.9,195.5 L1175.9,193.3 L1177.9,191.1 L1179.9,188.8 L1181.9,186.6 L1183.9,184.4 L1185.9,182.1 L1187.9,179.9 L1189.9,177.6 L1191.9,175.4 L1193.9,173.1 L1195.9,170.9 L1197.9,168.6 L1199.9,166.4 L1201.9,164.1 L1203.9,161.9 L1205.9,159.6 L1207.9,157.4 L1209.9,155.1 L1211.9,152.9 L1213.9,150.6 L1215.9,148.3 L1217.9,146.1 L1219.9,143.8 L1221.9,141.5 L1223.9,139.3 L1225.9,137.0 L1227.9,134.7 L1229.9,132.4 L1231.9,130.1 L1233.9,127.9 L1235.9,125.6 L1237.9,123.3 L1239.9,121.0 L1241.9,118.7 L1243.9,116.4 L1245.9,114.1 L1247.9,111.9 L1249.9,109.6 L1251.9,107.3 L1253.9,105.0 L1255.9,102.7 L1257.9,100.4 L1259.9,98.0 L1261.9,95.7 L1263.9,93.4 L1265.9,91.1 L1267.0,89.9" fill="none" stroke="#872ed8" stroke-width="4" stroke-linejoin="round" stroke-linecap="butt"/>
</g>
<rect x="145" y="47" width="1135" height="1089" fill="none" stroke="#a2a2a2" stroke-width="2"/>
<line x1="132" y1="61.4" x2="145" y2="61.4" stroke="#a2a2a2" stroke-width="2"/>
<text x="128.3" y="70.6" text-anchor="end" class="t" textLength="30.1">10</text>
<line x1="132" y1="236.5" x2="145" y2="236.5" stroke="#a2a2a2" stroke-width="2"/>
<text x="124.0" y="245.7" text-anchor="end" class="t">1</text>
<line x1="132" y1="413.5" x2="145" y2="413.5" stroke="#a2a2a2" stroke-width="2"/>
<text x="124.0" y="422.7" text-anchor="end" class="t" textLength="32.2">0,1</text>
<line x1="132" y1="590.5" x2="145" y2="590.5" stroke="#a2a2a2" stroke-width="2"/>
<text x="124.0" y="599.7" text-anchor="end" class="t" textLength="46.1">0,01</text>
<line x1="132" y1="765.5" x2="145" y2="765.5" stroke="#a2a2a2" stroke-width="2"/>
<text x="124.0" y="774.7" text-anchor="end" class="t" textLength="59.9">0,001</text>
<line x1="132" y1="942.5" x2="145" y2="942.5" stroke="#a2a2a2" stroke-width="2"/>
<text x="124.0" y="951.7" text-anchor="end" class="t" textLength="73.8">0,0001</text>
<line x1="132" y1="1119.6" x2="145" y2="1119.6" stroke="#a2a2a2" stroke-width="2"/>
<text x="127.8" y="1128.8" text-anchor="end" class="t" textLength="52.5">1e-5</text>
<line x1="145" y1="1136" x2="145" y2="1149" stroke="#a2a2a2" stroke-width="2"/>
<text x="144.2" y="1178" text-anchor="middle" class="t">1</text>
<line x1="306.9" y1="1136" x2="306.9" y2="1149" stroke="#a2a2a2" stroke-width="2"/>
<text x="306.1" y="1178" text-anchor="middle" class="t" textLength="29.61">10</text>
<line x1="469.5" y1="1136" x2="469.5" y2="1149" stroke="#a2a2a2" stroke-width="2"/>
<text x="468.7" y="1178" text-anchor="middle" class="t" textLength="43.52">100</text>
<line x1="632" y1="1136" x2="632" y2="1149" stroke="#a2a2a2" stroke-width="2"/>
<text x="631.2" y="1178" text-anchor="middle" class="t" textLength="57.42">1000</text>
<line x1="792.5" y1="1136" x2="792.5" y2="1149" stroke="#a2a2a2" stroke-width="2"/>
<text x="791.7" y="1178" text-anchor="middle" class="t" textLength="71.33">10000</text>
<line x1="955" y1="1136" x2="955" y2="1149" stroke="#a2a2a2" stroke-width="2"/>
<text x="954.2" y="1178" text-anchor="middle" class="t" textLength="85.24">100000</text>
<line x1="1117.6" y1="1136" x2="1117.6" y2="1149" stroke="#a2a2a2" stroke-width="2"/>
<text x="1116.8" y="1178" text-anchor="middle" class="t" textLength="99.14">1000000</text>
<line x1="1280" y1="1136" x2="1280" y2="1149" stroke="#a2a2a2" stroke-width="2"/>
<text x="1301" y="1178" text-anchor="end" class="t" textLength="113.05">10000000</text>
<text x="709.5" y="1209" text-anchor="middle" class="t">size</text>
<text transform="translate(27.5,590) rotate(-90)" text-anchor="middle" class="t" textLength="100.4">Seconds</text>
<text x="289.3" y="38.3" class="title" textLength="702">A picture says more than a billion Words()</text>
<rect x="1292" y="28" width="41" height="4" fill="#5470d8"/>
<text x="1338.6" y="40.6" class="lg" textLength="155.8">Smooth(for)</text>
<rect x="1292" y="76" width="41" height="4" fill="#b64a56"/>
<text x="1338.6" y="88.6" class="lg" textLength="202.8">Smooth(repeat)</text>
<rect x="1292" y="124" width="41" height="4" fill="#6aad4f"/>
<text x="1338.6" y="136.6" class="lg" textLength="200.0">Smooth(words)</text>
<rect x="1292" y="172" width="41" height="4" fill="#872ed8"/>
<text x="1338.6" y="184.6" class="lg" textLength="218.6">Smooth(custom)</text>
</svg>
</body></html>
